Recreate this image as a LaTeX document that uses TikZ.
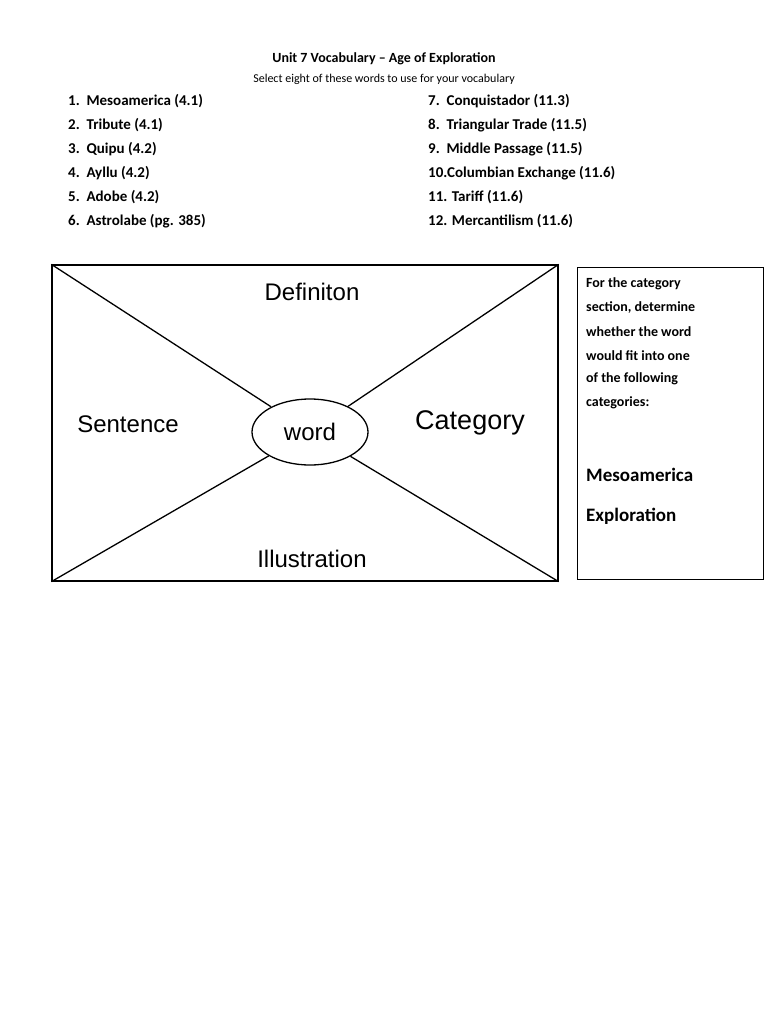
\documentclass[tikz,border=0pt]{standalone}
\usepackage{fontspec}
\usetikzlibrary{shapes.geometric}
\setmainfont{Carlito}
\newfontfamily\arialf{Liberation Sans}
\begin{document}
\begin{tikzpicture}[x=1pt,y=-1pt,
  item/.style={anchor=west,inner sep=0pt,font=\fontsize{15}{18}\selectfont\bfseries},
  side/.style={anchor=west,inner sep=0pt,font=\fontsize{14}{17}\selectfont\bfseries},
  lab/.style={inner sep=0pt,font=\arialf\fontsize{24}{28}\selectfont},
  frame/.style={draw,line width=1.3pt}]
\useasboundingbox[fill=white] (0,0) rectangle (768,1024);
\node[inner sep=0pt,font=\fontsize{14}{17}\selectfont\bfseries] (title) at (384,59) {Unit 7 Vocabulary -- Age of Exploration};
\node[inner sep=0pt,font=\fontsize{12}{14}\selectfont] (sub) at (384,79) {Select eight of these words to use for your vocabulary};
\foreach \t [count=\i] in {1.\ \ Mesoamerica (4.1),2.\ \ Tribute (4.1),3.\ \ Quipu (4.2),4.\ \ Ayllu (4.2),5.\ \ Adobe (4.2),6.\ \ Astrolabe (pg. 385)}
  \node[item] (l\i) at (68,{77+24*\i}) {\t};
\foreach \t [count=\i] in {7.\ \ Conquistador (11.3),8.\ \ Triangular Trade (11.5),9.\ \ Middle Passage (11.5),10.Columbian Exchange (11.6),11. Tariff (11.6),12. Mercantilism (11.6)}
  \node[item] (r\i) at (428,{77+24*\i}) {\t};
\node[frame,minimum width=506,minimum height=316,inner sep=0pt] (box) at (305,423) {};
\node[draw,line width=1.3pt,ellipse,minimum width=116,minimum height=66,inner sep=0pt] (word) at (310,432) {};
\draw[line width=1.3pt] (box.north west) -- (word);
\draw[line width=1.3pt] (box.north east) -- (word);
\draw[line width=1.3pt] (box.south west) -- (word);
\draw[line width=1.3pt] (box.south east) -- (word);
\node[lab] at (word) {word};
\node[lab] (def) at (312,292) {Definiton};
\node[lab] (sen) at (128,424) {Sentence};
\node[lab,font=\arialf\fontsize{27}{30}\selectfont] (cat) at (470,423) {Category};
\node[lab] (ill) at (312,559) {Illustration};
\node[draw,line width=0.8pt,minimum width=186,minimum height=312,inner sep=0pt] (note) at (670,423) {};
\foreach \t [count=\i] in {For the category,{section, determine},whether the word,would fit into one,of the following,categories:}
  \node[side] (s\i) at (586,{260+23.8*\i}) {\t};
\node[side,font=\fontsize{19}{22}\selectfont\bfseries] (m) at (586,475) {Mesoamerica};
\node[side,font=\fontsize{19}{22}\selectfont\bfseries] (e) at (586,516) {Exploration};
\end{tikzpicture}
\end{document}
